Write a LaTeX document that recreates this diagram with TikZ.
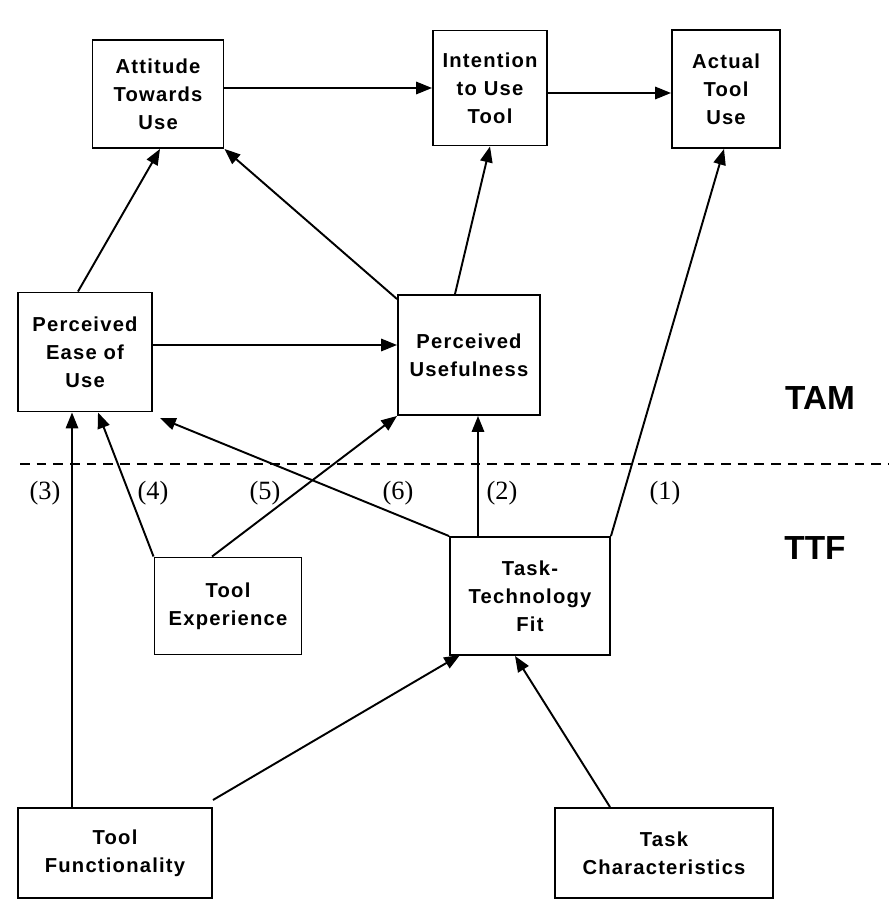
\documentclass[tikz,border=0pt]{standalone}
\usepackage{fontspec}
\setmainfont{Liberation Serif}
\setsansfont{Liberation Sans}
\usetikzlibrary{arrows.meta}
\begin{document}
\begin{tikzpicture}[x=0.02cm,y=-0.02cm,
  box/.style={draw,line width=1.1pt,align=center,font=\sffamily\bfseries\addfontfeature{LetterSpace=6}\fontsize{11.5}{16}\selectfont,inner sep=0pt},
  arr/.style={line width=1.1pt,-{Triangle[length=9pt,width=7pt]}},
  lab/.style={font=\fontsize{15}{17}\selectfont}]
\useasboundingbox (0,0) rectangle (888,915);
\node[box,minimum width=131*0.02cm,minimum height=108*0.02cm] (att) at (158,94) {Attitude\\Towards\\Use};
\node[box,minimum width=114*0.02cm,minimum height=115*0.02cm] (int) at (490,88) {Intention\\to Use\\Tool};
\node[box,minimum width=108*0.02cm,minimum height=118*0.02cm] (act) at (726,89) {Actual\\Tool\\Use};
\node[box,minimum width=134*0.02cm,minimum height=119*0.02cm] (peou) at (85,352) {Perceived\\Ease of\\Use};
\node[box,minimum width=142*0.02cm,minimum height=120*0.02cm] (pu) at (469,355) {Perceived\\Usefulness};
\node[box,minimum width=147*0.02cm,minimum height=97*0.02cm] (te) at (228,606) {Tool\\Experience};
\node[box,minimum width=160*0.02cm,minimum height=118*0.02cm] (ttf) at (530,596) {Task-\\Technology\\Fit};
\node[box,minimum width=194*0.02cm,minimum height=90*0.02cm] (tf) at (115,853) {Tool\\Functionality};
\node[box,minimum width=218*0.02cm,minimum height=90*0.02cm] (tc) at (664,853) {Task\\Characteristics};
\draw[line width=1.1pt,dash pattern=on 5.5pt off 4pt] (20,464) coordinate (d1) -- (888,464) coordinate (d2);
\node[font=\sffamily\bfseries\fontsize{19}{20}\selectfont] (tam) at (820,398) {TAM};
\node[font=\sffamily\bfseries\fontsize{19}{20}\selectfont] (ttfl) at (815,548) {TTF};
\node[lab] (l3) at (45,493) {(3)};
\node[lab] (l4) at (153,493) {(4)};
\node[lab] (l5) at (265,493) {(5)};
\node[lab] (l6) at (398,493) {(6)};
\node[lab] (l2) at (502,493) {(2)};
\node[lab] (l1) at (665,493) {(1)};
\draw[arr] (att.east |- 0,88) -- (int.west |- 0,88);
\draw[arr] (int.east |- 0,93) -- (act.west |- 0,93);
\draw[arr] (peou.north -| 78,0) -- (att.south -| 160,0);
\draw[arr] (pu.north west) ++(0,5) -- (att.south east);
\draw[arr] (pu.north -| 455,0) -- (int.south -| 490,0);
\draw[arr] (peou.east |- 0,345) -- (pu.west |- 0,345);
\draw[arr] (ttf.north east) -- (act.south -| 724,0);
\draw[arr] (ttf.north -| 478,0) -- (pu.south -| 478,0);
\draw[arr] (ttf.north west) -- (160,418);
\draw[arr] (te.north west) -- (peou.south -| 98,0);
\draw[arr] (te.north -| 212,0) -- (pu.south west);
\draw[arr] (tf.north -| 72,0) -- (peou.south -| 72,0);
\draw[arr] (tf.east |- 0,800) -- (460,655);
\draw[arr] (tc.north -| 610,0) -- (ttf.south -| 515,0);
\end{tikzpicture}
\end{document}
